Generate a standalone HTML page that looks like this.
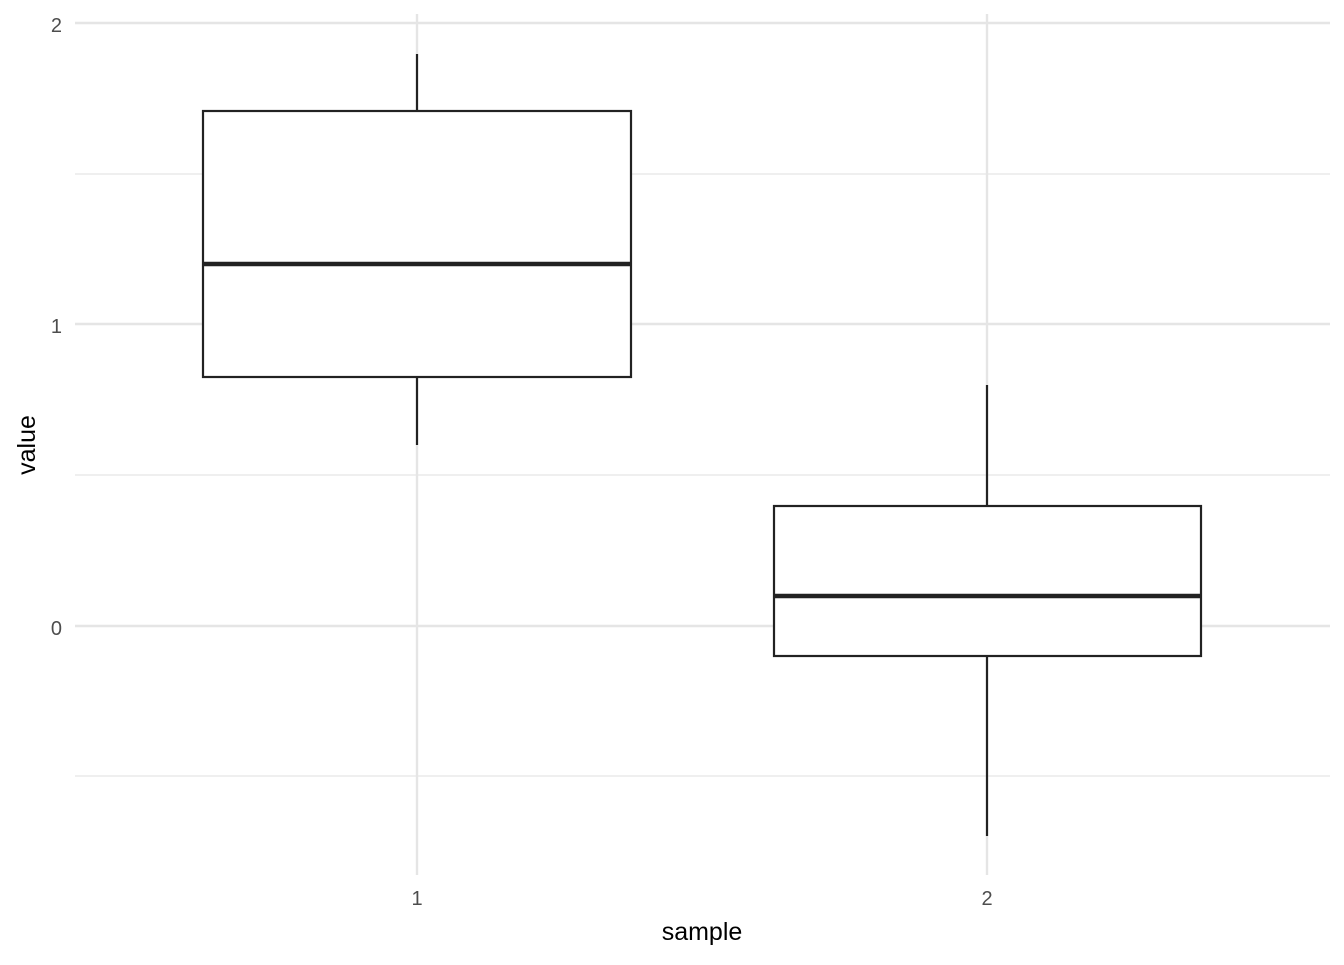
<!DOCTYPE html>
<html><head><style>body{margin:0;background:#fff}</style></head><body>
<svg width="1344" height="960" xmlns="http://www.w3.org/2000/svg" font-family="Liberation Sans, sans-serif">
<g stroke="#e5e5e5" stroke-width="1.2">
<line x1="75" x2="1330" y1="174" y2="174"/><line x1="75" x2="1330" y1="475" y2="475"/><line x1="75" x2="1330" y1="776" y2="776"/>
</g>
<g stroke="#e5e5e5" stroke-width="2.4">
<line x1="75" x2="1330" y1="23" y2="23"/><line x1="75" x2="1330" y1="324" y2="324"/><line x1="75" x2="1330" y1="626" y2="626"/>
<line x1="417" x2="417" y1="14" y2="875"/><line x1="987" x2="987" y1="14" y2="875"/>
</g>
<g stroke="#222" stroke-width="2.2" fill="#fff">
<line x1="417" x2="417" y1="54" y2="111"/><line x1="417" x2="417" y1="377" y2="445"/>
<rect x="203" y="111" width="428" height="266"/>
<line x1="203" x2="631" y1="264" y2="264" stroke-width="4.5"/>
<line x1="987" x2="987" y1="385" y2="506"/><line x1="987" x2="987" y1="656" y2="836"/>
<rect x="774" y="506" width="427" height="150"/>
<line x1="774" x2="1201" y1="596" y2="596" stroke-width="4.5"/>
</g>
<g fill="#4d4d4d" font-size="20" text-anchor="end">
<text x="62" y="32">2</text><text x="62" y="333">1</text><text x="62" y="635">0</text>
</g>
<g fill="#4d4d4d" font-size="20" text-anchor="middle">
<text x="417" y="905">1</text><text x="987" y="905">2</text>
</g>
<text x="702" y="940" font-size="25" text-anchor="middle" fill="#000">sample</text>
<text transform="translate(35,445) rotate(-90)" font-size="25" text-anchor="middle" fill="#000">value</text>
</svg>
</body></html>
